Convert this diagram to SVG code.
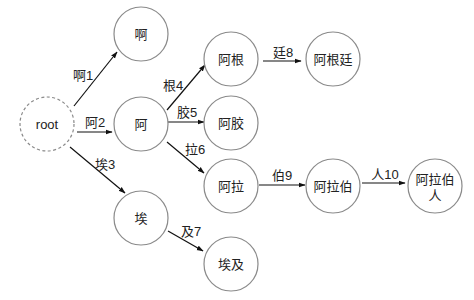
<svg xmlns="http://www.w3.org/2000/svg" width="474" height="300" viewBox="0 0 474 300">
<style>
.n circle{fill:#fff;stroke:#8a8a8a;stroke-width:1.2}
.n.r circle{stroke-dasharray:3 2.5}
text{font-family:"Liberation Sans","Noto Sans CJK SC",sans-serif;font-size:13px;fill:#222;text-anchor:middle;dominant-baseline:central}
.e line{stroke:#111;stroke-width:1.2;marker-end:url(#a)}
</style>
<defs>
<marker id="a" viewBox="0 0 10 10" refX="9" refY="5" markerWidth="7" markerHeight="7" markerUnits="userSpaceOnUse" orient="auto">
<path d="M0,1.5 L10,5 L0,8.5 z" fill="#111"/>
</marker>
</defs>
<rect width="474" height="300" fill="#fff"/>
<g id="edges" class="e">
<line x1="74" y1="106" x2="117" y2="52"/>
<line x1="77" y1="132" x2="112" y2="132"/>
<line x1="70" y1="147" x2="125" y2="193"/>
<line x1="167" y1="110" x2="205" y2="65"/>
<line x1="168" y1="122" x2="204" y2="122"/>
<line x1="167" y1="142" x2="204" y2="173"/>
<line x1="263" y1="61" x2="301" y2="61"/>
<line x1="259" y1="185" x2="305" y2="185"/>
<line x1="362" y1="183" x2="405" y2="183"/>
<line x1="168" y1="231" x2="203" y2="251"/>
<text x="83" y="75">啊1</text>
<text x="95" y="122">阿2</text>
<text x="105" y="164">埃3</text>
<text x="173" y="85">根4</text>
<text x="187" y="112">胶5</text>
<text x="195" y="149">拉6</text>
<text x="283" y="52">廷8</text>
<text x="282" y="175">伯9</text>
<text x="385" y="174">人10</text>
<text x="191" y="231">及7</text>
</g>
<g id="root" class="n r"><circle cx="47" cy="124" r="27"/><text x="47" y="124">root</text></g>
<g id="n_a1" class="n"><circle cx="141" cy="34" r="27"/><text x="141" y="34">啊</text></g>
<g id="n_a" class="n"><circle cx="141" cy="124" r="27"/><text x="141" y="124">阿</text></g>
<g id="n_ai" class="n"><circle cx="141" cy="218" r="27"/><text x="141" y="218">埃</text></g>
<g id="n_agen" class="n"><circle cx="231" cy="59" r="27"/><text x="231" y="59">阿根</text></g>
<g id="n_ajiao" class="n"><circle cx="231" cy="123" r="27"/><text x="231" y="123">阿胶</text></g>
<g id="n_ala" class="n"><circle cx="231" cy="186" r="27"/><text x="231" y="186">阿拉</text></g>
<g id="n_aiji" class="n"><circle cx="231" cy="264" r="27"/><text x="231" y="264">埃及</text></g>
<g id="n_agenting" class="n"><circle cx="333" cy="59" r="27"/><text x="333" y="59">阿根廷</text></g>
<g id="n_alabo" class="n"><circle cx="333" cy="186" r="27"/><text x="333" y="186">阿拉伯</text></g>
<g id="n_alaboren" class="n"><circle cx="435" cy="186" r="27"/><text x="435" y="179">阿拉伯</text><text x="435" y="195">人</text></g>
</svg>
